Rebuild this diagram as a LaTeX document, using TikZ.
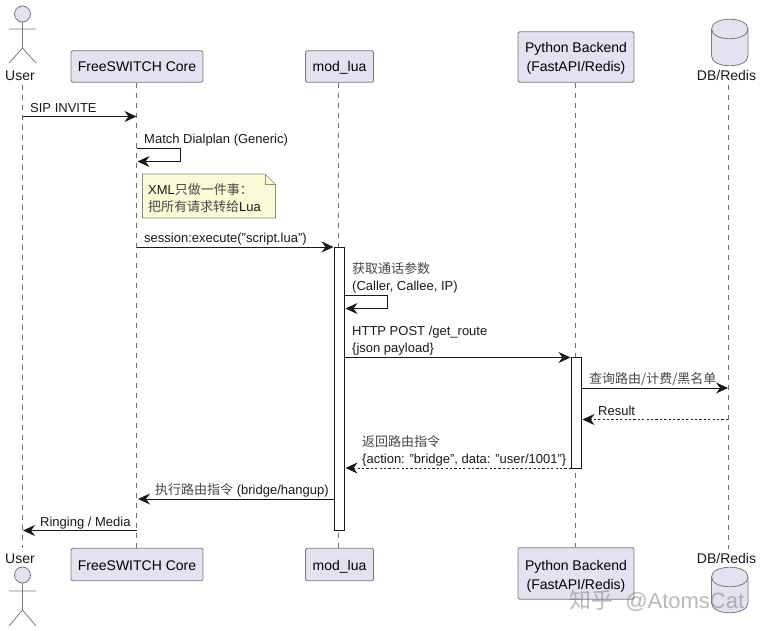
\documentclass[tikz,border=0pt]{standalone}
\usepackage{fontspec}
\setmainfont{Liberation Sans}
\newfontfamily\cjk{Noto Sans CJK SC}
\newcommand\zh[1]{{\cjk\color{black!72}#1}}
\usetikzlibrary{arrows.meta}
\definecolor{partfill}{HTML}{E2E2F0}
\definecolor{partline}{HTML}{7A7A7A}
\definecolor{notefill}{HTML}{FBFBD8}
\definecolor{noteline}{HTML}{8E8E7E}
\definecolor{lifeline}{HTML}{6E6E6E}
\tikzset{
  x=1pt,y=-1pt,
  partbox/.style={draw=partline,fill=partfill,rounded corners=1.5pt,line width=0.8pt,inner sep=0pt,align=center,font=\fontsize{14}{19}\selectfont,text depth=1pt},
  figure/.style={draw=partline,line width=0.8pt},
  figfill/.style={draw=partline,fill=partfill,line width=0.8pt},
  partlabel/.style={inner sep=1pt,font=\fontsize{14}{16}\selectfont,text=black!90},
  life/.style={draw=lifeline,line width=0.6pt,dash pattern=on 5pt off 5pt},
  msg/.style={draw=black!90,line width=0.9pt,-{Stealth[length=12pt,width=11pt,inset=4pt]}},
  reply/.style={msg,dash pattern=on 2.2pt off 2.2pt},
  msgtext/.style={inner sep=0pt,anchor=south west,align=left,text depth=0pt,font=\fontsize{13}{17}\selectfont,text=black!90},
  activation/.style={draw=black!90,fill=white,line width=0.9pt,inner sep=0pt,minimum width=10pt},
}
\begin{document}
\begin{tikzpicture}
\path[fill=white] (0,0) rectangle (763,631);
\useasboundingbox (0,0) rectangle (763,631);

% participant boxes
\node[partbox,text height=12pt,minimum width=132pt,minimum height=31.5pt] (fsT) at (137,66.5) {FreeSWITCH Core};
\node[partbox,text height=12pt,minimum width=68pt,minimum height=31.5pt] (luaT) at (339.5,66.5) {mod\_lua};
\node[partbox,text height=31pt,minimum width=116pt,minimum height=50.5pt] (pyT) at (576,57) {Python Backend\\(FastAPI/Redis)};
\node[partbox,text height=12pt,minimum width=132pt,minimum height=32.5pt] (fsB) at (137,564.5) {FreeSWITCH Core};
\node[partbox,text height=12pt,minimum width=68pt,minimum height=32.5pt] (luaB) at (339.5,564.5) {mod\_lua};
\node[partbox,text height=32pt,minimum width=116pt,minimum height=51.5pt] (pyB) at (576,573.5) {Python Backend\\(FastAPI/Redis)};

% actor and database labels
\node[partlabel,anchor=base] (userT) at (20,81) {User};
\node[partlabel,anchor=base] (userB) at (20,563) {User};
\node[partlabel,anchor=base] (dbT) at (726.5,81) {DB/Redis};
\node[partlabel,anchor=base] (dbB) at (726.5,563) {DB/Redis};

% lifeline anchors
\coordinate (uT) at (22.5,85);
\coordinate (uB) at (22.5,548);
\coordinate (dT) at (728.5,85);
\coordinate (dB) at (728.5,549);

% lifelines
\draw[life] (uT) -- (uB);
\draw[life] (fsT.south -| 136.5,0) -- (fsB.north -| 136.5,0);
\draw[life] (luaT.south -| 338.5,0) -- (luaB.north -| 338.5,0);
\draw[life] (pyT.south -| 575,0) -- (pyB.north -| 575,0);
\draw[life] (dT) -- (dB);

% actor figures
\filldraw[figfill] (22.5,14) circle (8);
\draw[figure] (22.5,22) -- (22.5,48) (9,29) -- (36,29) (9,63) -- (22.5,48) -- (36,63);
\filldraw[figfill] (22.5,575) circle (8);
\draw[figure] (22.5,583) -- (22.5,610) (9,591) -- (36,591) (9,626) -- (22.5,610) -- (36,626);

% database figures
\filldraw[figfill] (711.5,29) .. controls (711.5,16) and (748,16) .. (748,29)
  -- (748,56) .. controls (748,69) and (711.5,69) .. (711.5,56) -- cycle;
\draw[figure] (711.5,29) .. controls (711.5,42) and (748,42) .. (748,29);
\filldraw[figfill] (711.5,577) .. controls (711.5,564) and (748,564) .. (748,577)
  -- (748,603) .. controls (748,616) and (711.5,616) .. (711.5,603) -- cycle;
\draw[figure] (711.5,577) .. controls (711.5,590) and (748,590) .. (748,577);

% activations
\node[activation,minimum height=283pt] (actLua) at (339.5,388.5) {};
\node[activation,minimum height=111pt] (actPy) at (576.5,413) {};

% note
\filldraw[draw=noteline,fill=notefill,line width=0.7pt] (142.5,174) -- (265,174) -- (275.5,184.5) -- (275.5,218) -- (142.5,218) -- cycle;
\draw[draw=noteline,line width=0.7pt] (265,174) -- (265,184.5) -- (275.5,184.5);
\node[msgtext] (noteText) at (148,212) {XML\zh{只做一件事：}\\\zh{把所有请求转给}Lua};

% message end points
\coordinate (a1) at (22.5,116.5);   \coordinate (b1) at (136.5,116.5);
\coordinate (a2) at (136.5,148.5);  \coordinate (c2) at (180,148.5);
\coordinate (d2) at (180,161.5);    \coordinate (b2) at (137.5,161.5);
\coordinate (a3) at (136.5,247);    \coordinate (b3) at (333.5,247);
\coordinate (a4) at (345,295.5);    \coordinate (c4) at (387,295.5);
\coordinate (d4) at (387,308.5);    \coordinate (b4) at (345.5,308.5);
\coordinate (a5) at (345,357.5);    \coordinate (b5) at (570.5,357.5);
\coordinate (a6) at (582,388);      \coordinate (b6) at (728,388);
\coordinate (a7) at (728,419.5);    \coordinate (b7) at (582.5,419.5);
\coordinate (a8) at (571,468);      \coordinate (b8) at (345.5,468);
\coordinate (a9) at (334,499);      \coordinate (b9) at (138,499);
\coordinate (a10) at (136.5,530.5); \coordinate (b10) at (23,530.5);

% messages
\draw[msg] (a1) -- (b1);
\draw[msg] (a2) -- (c2) -- (d2) -- (b2);
\draw[msg] (a3) -- (b3);
\draw[msg] (a4) -- (c4) -- (d4) -- (b4);
\draw[msg] (a5) -- (b5);
\draw[msg] (a6) -- (b6);
\draw[reply] (a7) -- (b7);
\draw[reply] (a8) -- (b8);
\draw[msg] (a9) -- (b9);
\draw[msg] (a10) -- (b10);

% message labels
\node[msgtext] (t1) at (30,113) {SIP INVITE};
\node[msgtext] (t2) at (144,144) {Match Dialplan (Generic)};
\node[msgtext] (t3) at (144,243) {session:execute("script.lua")};
\node[msgtext] (t4) at (352,291) {\zh{获取通话参数}\\(Caller, Callee, IP)};
\node[msgtext] (t5) at (352,353) {HTTP POST /get\_route\\\{json payload\}};
\node[msgtext] (t6) at (589,384) {\zh{查询路由/计费/黑名单}};
\node[msgtext] (t7) at (598,416) {Result};
\node[msgtext] (t8) at (362,464) {\zh{返回路由指令}\\\{action: "bridge", data: "user/1001"\}};
\node[msgtext] (t9) at (155,495) {\zh{执行路由指令} (bridge/hangup)};
\node[msgtext] (t10) at (40,527) {Ringing / Media};

% watermark
\node[inner sep=0pt,anchor=base west,text=gray,opacity=0.55,font=\fontsize{22}{24}\selectfont] (mark) at (569,608) {{\cjk 知乎}\hspace{6pt} @AtomsCat};
\end{tikzpicture}
\end{document}
